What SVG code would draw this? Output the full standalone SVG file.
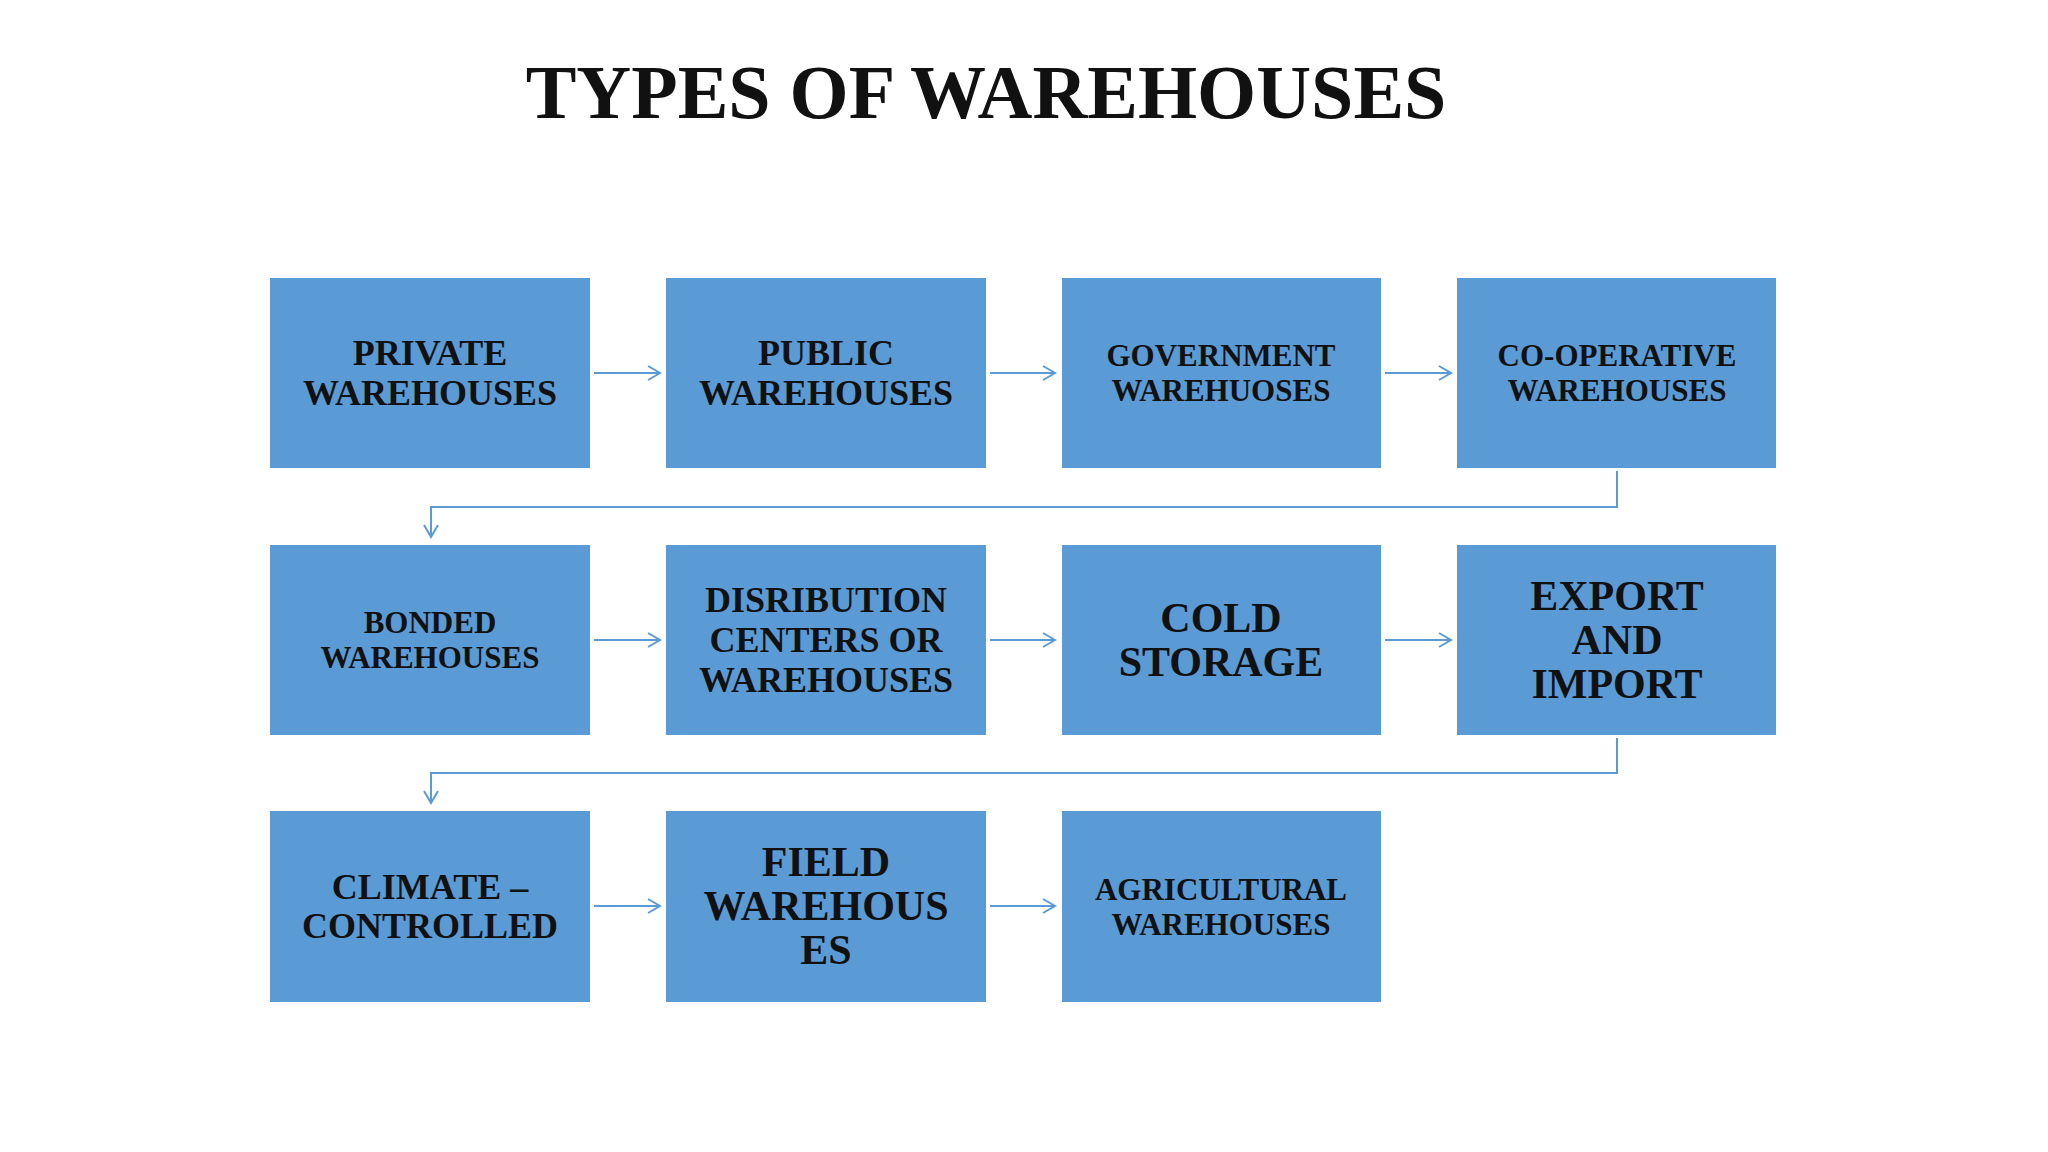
<svg xmlns="http://www.w3.org/2000/svg" width="2048" height="1152" viewBox="0 0 2048 1152">
<defs>
<style>
.box{fill:#5B9BD5}
.t{font-family:"Liberation Serif",serif;font-weight:bold;fill:#111;text-anchor:middle;dominant-baseline:central}
.c{stroke:#5B9BD5;stroke-width:2;fill:none}
</style>
<marker id="a" markerWidth="16" markerHeight="16" refX="13" refY="8" orient="auto" markerUnits="userSpaceOnUse"><path d="M1,1 L13,8 L1,15" fill="none" stroke="#5B9BD5" stroke-width="2"/></marker>
</defs>
<rect width="2048" height="1152" fill="#fff"/>
<text class="t" x="986" y="92" font-size="76">TYPES OF WAREHOUSES</text>
<g id="n1"><rect class="box" x="270" y="278" width="320" height="190"/><text class="t" font-size="36" x="430" y="353">PRIVATE</text><text class="t" font-size="36" x="430" y="393">WAREHOUSES</text></g>
<g id="n2"><rect class="box" x="666" y="278" width="320" height="190"/><text class="t" font-size="36" x="826" y="353">PUBLIC</text><text class="t" font-size="36" x="826" y="393">WAREHOUSES</text></g>
<g id="n3"><rect class="box" x="1062" y="278" width="319" height="190"/><text class="t" font-size="31" x="1221" y="355">GOVERNMENT</text><text class="t" font-size="31" x="1221" y="390">WAREHUOSES</text></g>
<g id="n4"><rect class="box" x="1457" y="278" width="319" height="190"/><text class="t" font-size="31" x="1617" y="355">CO-OPERATIVE</text><text class="t" font-size="31" x="1617" y="390">WAREHOUSES</text></g>
<g id="n5"><rect class="box" x="270" y="545" width="320" height="190"/><text class="t" font-size="31" x="430" y="622">BONDED</text><text class="t" font-size="31" x="430" y="657">WAREHOUSES</text></g>
<g id="n6"><rect class="box" x="666" y="545" width="320" height="190"/><text class="t" font-size="36" x="826" y="600">DISRIBUTION</text><text class="t" font-size="36" x="826" y="640">CENTERS OR</text><text class="t" font-size="36" x="826" y="680">WAREHOUSES</text></g>
<g id="n7"><rect class="box" x="1062" y="545" width="319" height="190"/><text class="t" font-size="42" x="1221" y="618">COLD</text><text class="t" font-size="42" x="1221" y="662">STORAGE</text></g>
<g id="n8"><rect class="box" x="1457" y="545" width="319" height="190"/><text class="t" font-size="42" x="1617" y="596">EXPORT</text><text class="t" font-size="42" x="1617" y="640">AND</text><text class="t" font-size="42" x="1617" y="684">IMPORT</text></g>
<g id="n9"><rect class="box" x="270" y="811" width="320" height="191"/><text class="t" font-size="36" x="430" y="887">CLIMATE –</text><text class="t" font-size="36" x="430" y="926">CONTROLLED</text></g>
<g id="n10"><rect class="box" x="666" y="811" width="320" height="191"/><text class="t" font-size="42" x="826" y="862">FIELD</text><text class="t" font-size="42" x="826" y="906">WAREHOUS</text><text class="t" font-size="42" x="826" y="950">ES</text></g>
<g id="n11"><rect class="box" x="1062" y="811" width="319" height="191"/><text class="t" font-size="31" x="1221" y="889">AGRICULTURAL</text><text class="t" font-size="31" x="1221" y="924">WAREHOUSES</text></g>
<g id="connectors">
<line class="c" x1="594" y1="373" x2="660" y2="373" marker-end="url(#a)"/>
<line class="c" x1="990" y1="373" x2="1055" y2="373" marker-end="url(#a)"/>
<line class="c" x1="1385" y1="373" x2="1451" y2="373" marker-end="url(#a)"/>
<polyline class="c" points="1617,471 1617,507 431,507 431,537" marker-end="url(#a)"/>
<line class="c" x1="594" y1="640" x2="660" y2="640" marker-end="url(#a)"/>
<line class="c" x1="990" y1="640" x2="1055" y2="640" marker-end="url(#a)"/>
<line class="c" x1="1385" y1="640" x2="1451" y2="640" marker-end="url(#a)"/>
<polyline class="c" points="1617,738 1617,773 431,773 431,803" marker-end="url(#a)"/>
<line class="c" x1="594" y1="906" x2="660" y2="906" marker-end="url(#a)"/>
<line class="c" x1="990" y1="906" x2="1055" y2="906" marker-end="url(#a)"/>
</g>
</svg>
